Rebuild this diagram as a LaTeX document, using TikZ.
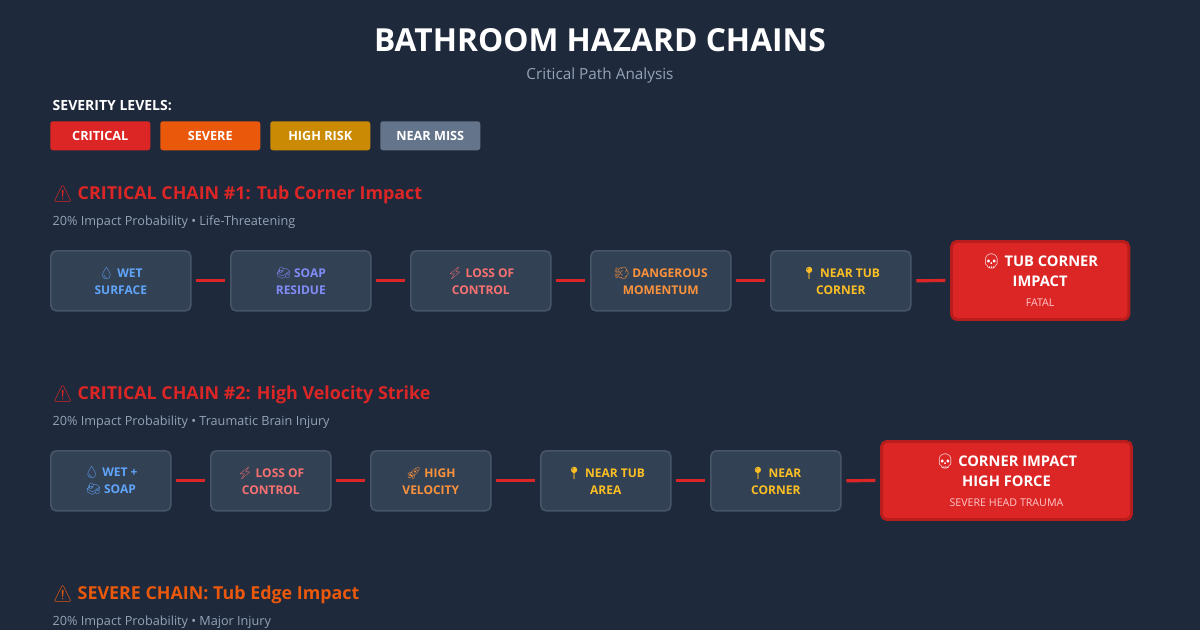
\documentclass[tikz,border=0pt]{standalone}
\usepackage{fontspec}
\setmainfont{Open Sans}
\newfontfamily\emo{Noto Emoji}
\definecolor{bg}{HTML}{1E293B}
\definecolor{boxf}{HTML}{334155}
\definecolor{boxd}{HTML}{475569}
\definecolor{cred}{HTML}{DC2626}
\definecolor{cdred}{HTML}{B91C1C}
\definecolor{corg}{HTML}{EA580C}
\definecolor{camb}{HTML}{CA8A04}
\definecolor{cslate}{HTML}{64748B}
\definecolor{tblue}{HTML}{60A5FA}
\definecolor{tind}{HTML}{818CF8}
\definecolor{tred}{HTML}{F87171}
\definecolor{torg}{HTML}{FB923C}
\definecolor{tyel}{HTML}{FBBF24}
\definecolor{tgray}{HTML}{94A3B8}
\definecolor{tpink}{HTML}{FECACA}
\newcommand\smallline[1]{\textcolor{tpink}{\normalfont\fontsize{8}{10}\selectfont #1}}
\begin{document}
\begin{tikzpicture}[x=0.75pt,y=-0.75pt,
  legend/.style={draw=none,fill=#1,rounded corners=2pt,minimum width=75pt,minimum height=21.75pt,anchor=north west,text=white,font=\bfseries\fontsize{9.5}{11}\selectfont,inner sep=0pt},
  stepbox/.style={draw=boxd,line width=1.2pt,fill=boxf,rounded corners=4pt,anchor=north west,minimum height=45pt,inner sep=0pt,align=center,font=\bfseries\fontsize{9}{13}\selectfont},
  finalbox/.style={draw=cdred,line width=2.2pt,fill=cred,rounded corners=4pt,anchor=north west,minimum height=58.5pt,inner sep=0pt,align=center,text=white,font=\bfseries\fontsize{11}{15}\selectfont},
  link/.style={draw=cred,line width=2.4pt,shorten <=3.5pt,shorten >=3.5pt},
  head/.style={anchor=west,font=\bfseries\fontsize{13.4}{16}\selectfont},
  sub/.style={anchor=west,text=tgray,font=\fontsize{9.5}{11}\selectfont}]
\fill[bg] (0,0) rectangle (1200,630);
\node[text=white,font=\bfseries\fontsize{23.8}{27}\selectfont] (title) at (600,40) {BATHROOM HAZARD CHAINS};
\node (subt) at (600,76) [text=tgray,font=\fontsize{11.5}{13}\selectfont] {Critical Path Analysis};
\node (sev) at (48,106) [anchor=west,text=white,font=\bfseries\fontsize{10.5}{12}\selectfont] {SEVERITY LEVELS:};
\node[legend=cred] (l1) at (50,121) {CRITICAL};
\node[legend=corg] (l2) at (160,121) {SEVERE};
\node[legend=camb] (l3) at (270,121) {HIGH RISK};
\node[legend=cslate] (l4) at (380,121) {NEAR MISS};
% chain 1
\node[head,text=cred] (h1) at (48,195) {{\emo\fontsize{12}{14}\selectfont ⚠} CRITICAL CHAIN \#1: Tub Corner Impact};
\node[sub] (s1) at (48,222) {20\% Impact Probability • Life-Threatening};
\node[stepbox,minimum width=105pt,text=tblue] (a1) at (50,250) {{\emo 💧} WET\\SURFACE};
\node[stepbox,minimum width=105pt,text=tind] (a2) at (230,250) {{\emo 🧼} SOAP\\RESIDUE};
\node[stepbox,minimum width=105pt,text=tred] (a3) at (410,250) {{\emo ⚡} LOSS OF\\CONTROL};
\node[stepbox,minimum width=105pt,text=torg] (a4) at (590,250) {{\emo 💨} DANGEROUS\\MOMENTUM};
\node[stepbox,minimum width=105pt,text=tyel] (a5) at (770,250) {{\emo 📍} NEAR TUB\\CORNER};
\node[finalbox,minimum width=133pt] (a6) at (950,240) {{\emo 💀} TUB CORNER\\IMPACT\\\smallline{FATAL}};
\foreach \i/\j in {a1/a2,a2/a3,a3/a4,a4/a5,a5/a6} \draw[link] (\i.east) -- (\j.west);
% chain 2
\node[head,text=cred] (h2) at (48,395) {{\emo\fontsize{12}{14}\selectfont ⚠} CRITICAL CHAIN \#2: High Velocity Strike};
\node[sub] (s2) at (48,422) {20\% Impact Probability • Traumatic Brain Injury};
\node[stepbox,minimum width=90pt,text=tblue] (b1) at (50,450) {{\emo 💧} WET +\\{\emo 🧼} SOAP};
\node[stepbox,minimum width=90pt,text=tred] (b2) at (210,450) {{\emo ⚡} LOSS OF\\CONTROL};
\node[stepbox,minimum width=90pt,text=torg] (b3) at (370,450) {{\emo 🚀} HIGH\\VELOCITY};
\node[stepbox,minimum width=97.5pt,text=tyel] (b4) at (540,450) {{\emo 📍} NEAR TUB\\AREA};
\node[stepbox,minimum width=97.5pt,text=tyel] (b5) at (710,450) {{\emo 📍} NEAR\\CORNER};
\node[finalbox,minimum width=187.5pt] (b6) at (880,440) {{\emo 💀} CORNER IMPACT\\HIGH FORCE\\\smallline{SEVERE HEAD TRAUMA}};
\foreach \i/\j in {b1/b2,b2/b3,b3/b4,b4/b5,b5/b6} \draw[link] (\i.east) -- (\j.west);
% chain 3
\node[head,text=corg] (h3) at (48,595) {{\emo\fontsize{12}{14}\selectfont ⚠} SEVERE CHAIN: Tub Edge Impact};
\node[sub] (s3) at (48,622) {20\% Impact Probability • Major Injury};
\end{tikzpicture}
\end{document}
